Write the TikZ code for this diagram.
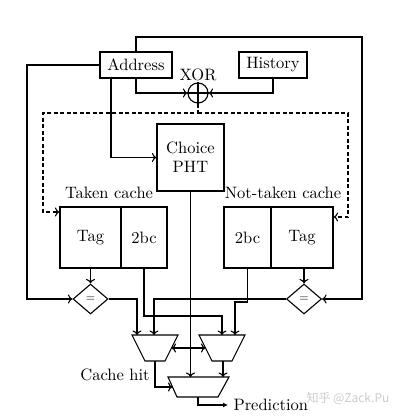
\documentclass[tikz,border=0pt]{standalone}
\usepackage{fontspec}
\setmainfont{lmroman10-regular.otf}
\newfontfamily\cjk{Noto Sans CJK SC}
\usetikzlibrary{arrows.meta,shapes.geometric,calc}
\begin{document}
\begin{tikzpicture}[x=1pt,y=-1pt,font=\fontsize{16.5}{19}\selectfont,
  plain/.style={line width=1.1pt},
  wire/.style={line width=1.1pt,-{To[length=4.5pt,width=9pt]}},
  dashwire/.style={line width=1.1pt,dash pattern=on 4pt off 2.5pt,-{To[length=4.5pt,width=9pt]}},
  box/.style={draw,line width=1.1pt,inner sep=0pt,rectangle},
  eqbox/.style={draw,diamond,line width=1.1pt,inner sep=0pt,minimum width=35pt,minimum height=30pt,font=\fontsize{12}{14}\selectfont}]
\useasboundingbox (0,0) rectangle (405,420);
% nodes
\node[box,minimum width=72pt,minimum height=26pt] (addr) at (136,65) {Address};
\node[box,minimum width=68pt,minimum height=26pt] (hist) at (273,65) {History};
\node[draw,circle,line width=1.1pt,minimum size=20pt,inner sep=0pt] (xor) at (198,93) {};
\draw[plain] (xor.north) -- (xor.south) (xor.west) -- (xor.east);
\node (xorlbl) at (198,75) {XOR};
\node[box,minimum width=67pt,minimum height=67pt,align=center] (pht) at (190.5,157.5) {Choice\\PHT};
\node[box,minimum width=61pt,minimum height=61pt] (tagL) at (90.5,237.5) {Tag};
\node[box,minimum width=46pt,minimum height=61pt] (bcL) at (144,237.5) {2bc};
\node[box,minimum width=47pt,minimum height=61pt] (bcR) at (247.5,237.5) {2bc};
\node[box,minimum width=62pt,minimum height=61pt] (tagR) at (302,237.5) {Tag};
\node (takenlbl) at (109,193) {Taken cache};
\node (ntlbl) at (283,193) {Not-taken cache};
\node[eqbox] (eqL) at (90.5,299) {=};
\node[eqbox] (eqR) at (304,299) {=};
% muxes
\draw[plain] (132,335) -- (178,335) -- (165,361) -- (145,361) -- cycle;
\draw[plain] (199,335) -- (245,335) -- (232,361) -- (212,361) -- cycle;
\draw[plain] (168,377) -- (229,377) -- (218,397) -- (177,397) -- cycle;
\coordinate (mLa) at (137,335);
\coordinate (mLb) at (154,335);
\coordinate (mLr) at (171.5,348);
\coordinate (mLo) at (155,361);
\coordinate (mRa) at (222,335);
\coordinate (mRb) at (235,335);
\coordinate (mRl) at (205.5,348);
\coordinate (mRo) at (223,361);
\coordinate (mBl) at (172.5,387);
\coordinate (mBtop) at (198,377);
\coordinate (mBo) at (198,397);
% helper coordinates
\coordinate (tr) at (362,37);
\coordinate (ll) at (27,65);
\coordinate (dj) at (198,113);
\coordinate (dl) at (43,113);
\coordinate (dr) at (348,113);
\coordinate (j1) at (144,316);
\coordinate (j2) at (247.5,302);
\coordinate (pr) at (228,405);
% connectors
\draw[wire] (addr.north) |- (tr) |- (eqR.east);
\draw[wire] (addr.south) |- (xor.west);
\draw[wire] (hist.south) |- (xor.east);
\draw[wire] (addr.west) -- (ll) |- (eqL.west);
\draw[wire] ([xshift=-25pt]addr.south) |- (pht.west);
\draw[dashwire] (xor.south) -- (dj) -- (dl) |- ([yshift=25.5pt]tagL.west);
\draw[dashwire] (dj) -- (dr) |- ([yshift=20.5pt]tagR.east);
\draw[wire] (tagL.south) -- (eqL.north);
\draw[wire] (eqR |- tagR.south) -- (eqR.north);
\draw[wire] (bcL.south) -- (j1) -| (mRa);
\draw[wire] (bcR.south) -- (j2) -| (mRb);
\draw[wire] (eqL.east) -| (mLa);
\draw[wire] (eqR.west) -| (mLb);
\draw[line width=1.1pt,{To[length=4.5pt,width=9pt]}-{To[length=4.5pt,width=9pt]}] (mLr) -- (mRl);
\draw[wire] (mLo) |- (mBl);
\draw[wire] (mRo) -- (mRo |- mBtop);
\draw[wire] (pht.south) -- (pht.south |- mBtop);
\draw[line width=1.1pt,-{Latex[length=5pt,width=5pt]}] (mBo) |- (pr);
\node[anchor=west] (pred) at (230,405) {Prediction};
\node (hitlbl) at (115,375) {Cache hit};
\node[text=gray!40,font=\cjk\fontsize{12}{14}\selectfont] (wm) at (348,398) {知乎 @Zack.Pu};
\end{tikzpicture}
\end{document}
